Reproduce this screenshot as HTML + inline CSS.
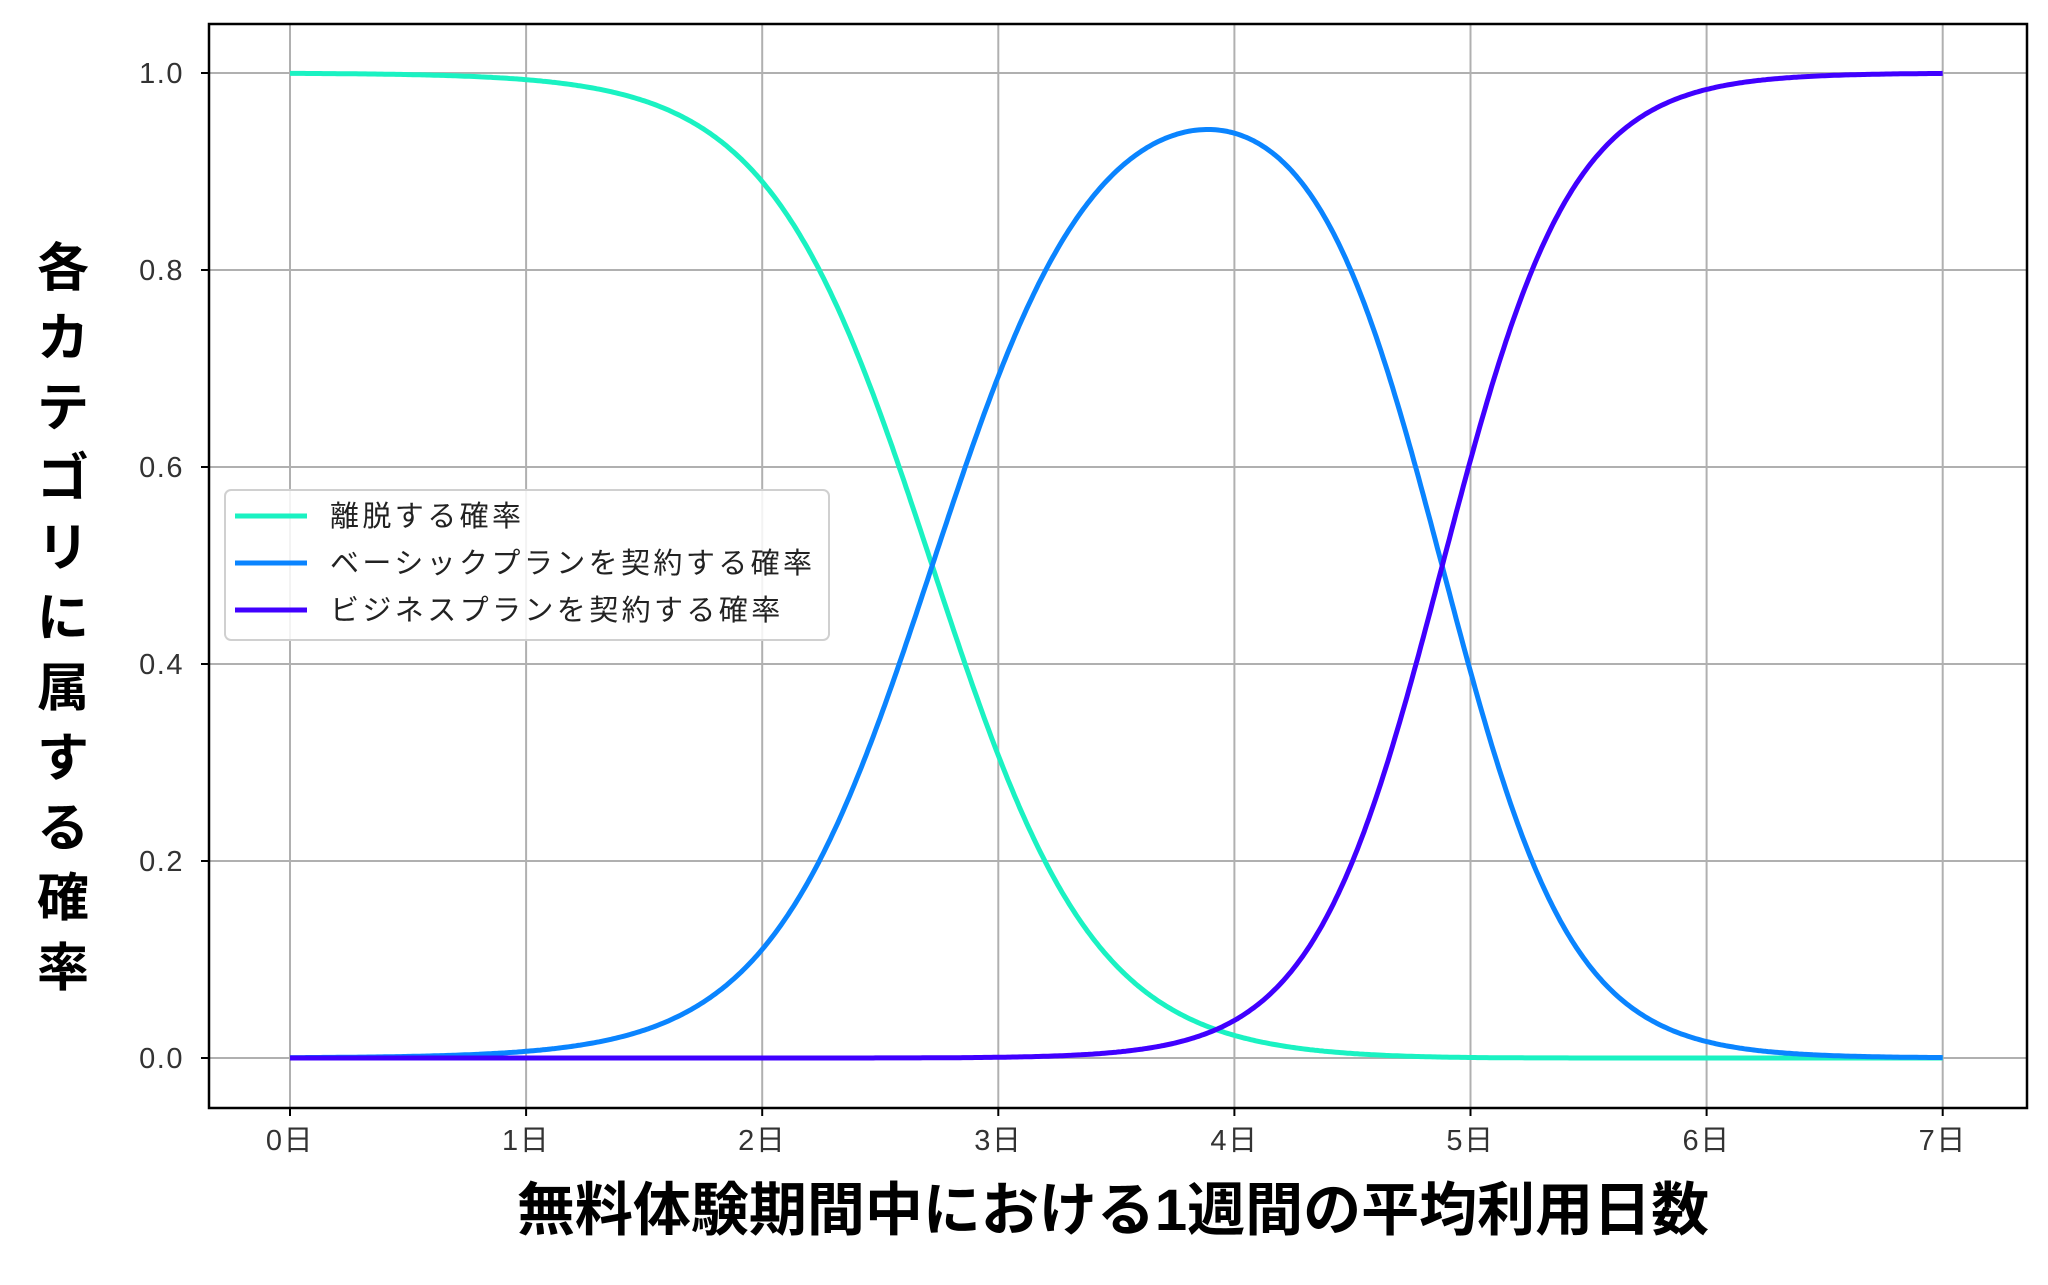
<!DOCTYPE html>
<html><head><meta charset="utf-8"><style>
body{margin:0;background:#fff;}
svg{display:block;}
text{font-family:"Liberation Sans","Noto Sans CJK JP",sans-serif;}
</style></head><body>
<svg id="s" width="2048" height="1285" xmlns="http://www.w3.org/2000/svg">
<rect width="2048" height="1285" fill="#fff"/>
<g id="grid" stroke="#b0b0b0" stroke-width="2"></g>
<g id="curves" fill="none" stroke-width="5" stroke-linejoin="round"></g>
<rect x="209" y="24" width="1818" height="1084" fill="none" stroke="#000" stroke-width="2.5"/>
<g id="ticks" stroke="#000" stroke-width="2"></g>
<g id="labels" font-size="29" fill="#333" letter-spacing="1.5"></g>
<g>
<rect x="225" y="490" width="604" height="150" rx="6" fill="#fff" fill-opacity="0.85" stroke="#d0d0d0" stroke-width="2"/>
<line x1="235" x2="307" y1="516" y2="516" stroke="#1af2c2" stroke-width="5"/>
<line x1="235" x2="307" y1="563" y2="563" stroke="#0a84ff" stroke-width="5"/>
<line x1="235" x2="307" y1="610" y2="610" stroke="#4000ff" stroke-width="5"/>
<g font-size="29" fill="#222" letter-spacing="3.4">
<text x="330" y="526">離脱する確率</text>
<text x="330" y="573">ベーシックプランを契約する確率</text>
<text x="330" y="620">ビジネスプランを契約する確率</text>
</g>
</g>
<text x="1113" y="1230" font-size="58" font-weight="bold" text-anchor="middle" fill="#000">無料体験期間中における1週間の平均利用日数</text>
<g id="ylab" font-size="52" font-weight="bold" text-anchor="middle" fill="#000"></g>
</svg>
<script>
var NS="http://www.w3.org/2000/svg";
function el(p,t,a,txt){var e=document.createElementNS(NS,t);for(var k in a)e.setAttribute(k,a[k]);if(txt)e.textContent=txt;document.getElementById(p).appendChild(e);}
function X(d){return 290+d*236.1;}
function Y(v){return 1058-v*985;}
for(var i=0;i<=7;i++){el("grid","line",{x1:X(i),x2:X(i),y1:24,y2:1108});
el("ticks","line",{x1:X(i),x2:X(i),y1:1108,y2:1116});
el("labels","text",{x:X(i),y:1150,"text-anchor":"middle"},i+"日");}
for(var j=0;j<=5;j++){var v=j*0.2;el("grid","line",{x1:209,x2:2027,y1:Y(v),y2:Y(v)});
el("ticks","line",{x1:201,x2:209,y1:Y(v),y2:Y(v)});
el("labels","text",{x:184,y:Y(v)+10,"text-anchor":"end"},v.toFixed(1));}
var p=[[],[],[]];
for(var k=0;k<=700;k++){var x=k*0.01;var b=2.9*(x-2.72);var c=b+3.64*(x-4.88);
var m=Math.max(0,b,c);var e0=Math.exp(-m),e1=Math.exp(b-m),e2=Math.exp(c-m),s=e0+e1+e2;
var pr=[e0/s,e1/s,e2/s];for(var q=0;q<3;q++)p[q].push((k?"L":"M")+X(x).toFixed(1)+","+Y(pr[q]).toFixed(1));}
var cols=["#1af2c2","#0a84ff","#4000ff"];
for(var q=0;q<3;q++)el("curves","path",{d:p[q].join(""),stroke:cols[q]});
var yl="各カテゴリに属する確率";
for(var i=0;i<yl.length;i++)el("ylab","text",{x:63,y:286+i*70},yl[i]);
</script>
</body></html>
